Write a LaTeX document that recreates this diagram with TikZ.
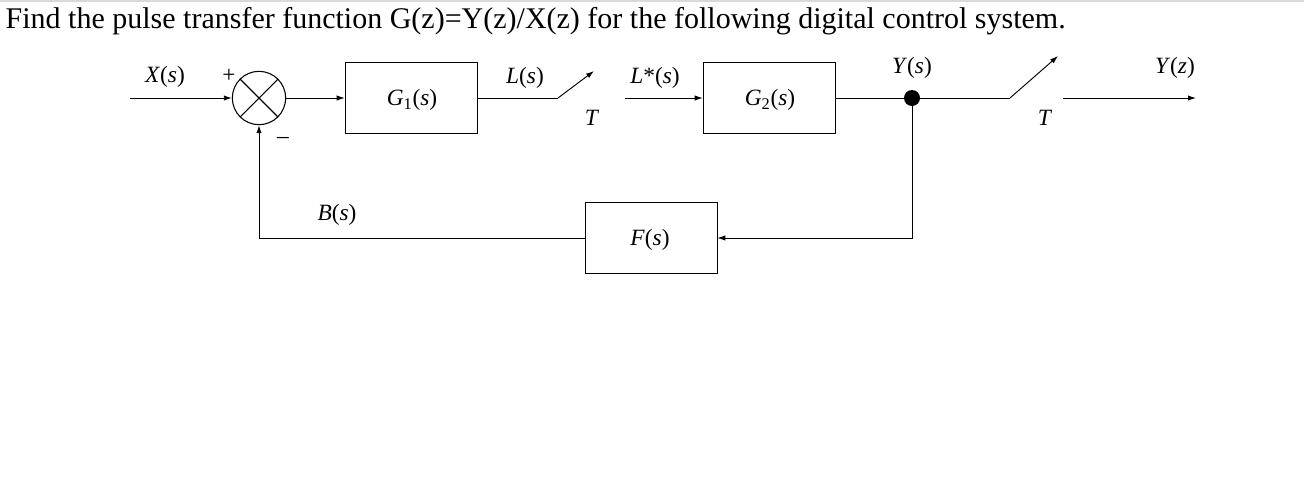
\documentclass[tikz,border=0pt]{standalone}
\usepackage{fontspec}
\setmainfont{Liberation Serif}
\usetikzlibrary{arrows.meta}
\newcommand{\iv}[1]{\textit{#1}}
\begin{document}
\begin{tikzpicture}[x=0.75pt,y=-0.75pt,
  blk/.style={draw,minimum width=99pt,minimum height=53pt,inner sep=0pt},
  lab/.style={font=\fontsize{17.5}{20}\selectfont},
  sig/.style={-{Latex[length=6pt,width=4pt]},line width=0.7pt},
  ln/.style={line width=0.7pt}]
\useasboundingbox (0,0) rectangle (1304,482);
\draw[gray!30,line width=2pt] (0,1) -- (1304,1);
\node[anchor=west,font=\fontsize{22.5}{26}\selectfont] (title) at (1,21) {Find the pulse transfer function G(z)=Y(z)/X(z) for the following digital control system.};
\node[draw,circle,minimum size=40pt,inner sep=0pt,line width=0.8pt] (sum) at (259,98) {};
\draw[line width=0.8pt] (sum.north west) -- (sum.south east) (sum.north east) -- (sum.south west);
\node[blk] (g1) at (411,98) {};
\node[lab] at (412,100) {\iv{G}\textsubscript{1}(\iv{s})};
\node[blk] (g2) at (769,98) {};
\node[lab] at (770,100) {\iv{G}\textsubscript{2}(\iv{s})};
\node[blk] (f) at (651,238) {};
\node[lab] at (650,240) {\iv{F}(\iv{s})};
\coordinate (in) at (130,98);
\coordinate (s1a) at (558,98);
\coordinate (s1b) at (594,71);
\coordinate (s1o) at (625,98);
\coordinate (dot) at (912,98);
\coordinate (s2a) at (1010,98);
\coordinate (s2b) at (1058,56);
\coordinate (s2o) at (1063,98);
\coordinate (out) at (1196,98);
\fill (dot) circle (6pt);
\draw[sig] (in) -- (sum.west);
\draw[sig] (sum.east) -- (g1.west);
\draw[ln] (g1.east) -- (s1a);
\draw[sig] (s1a) -- (s1b);
\draw[sig] (s1o) -- (g2.west);
\draw[ln] (g2.east) -- (s2a);
\draw[sig] (s2a) -- (s2b);
\draw[sig] (s2o) -- (out);
\draw[sig] (dot) |- (f.east);
\draw[sig] (f.west) -| (sum.south);
\node[lab] at (165,77) {\iv{X}(\iv{s})};
\node[lab] at (229,76) {+};
\node[lab] at (283,140) {\textendash};
\node[lab] at (525,78) {\iv{L}(\iv{s})};
\node[lab] at (592,118) {\iv{T}};
\node[lab] at (655,78) {\iv{L}*(\iv{s})};
\node[lab] at (912,68) {\iv{Y}(\iv{s})};
\node[lab] at (1045,118) {\iv{T}};
\node[lab] at (1175,68) {\iv{Y}(\iv{z})};
\node[lab] at (337,215) {\iv{B}(\iv{s})};
\end{tikzpicture}
\end{document}
